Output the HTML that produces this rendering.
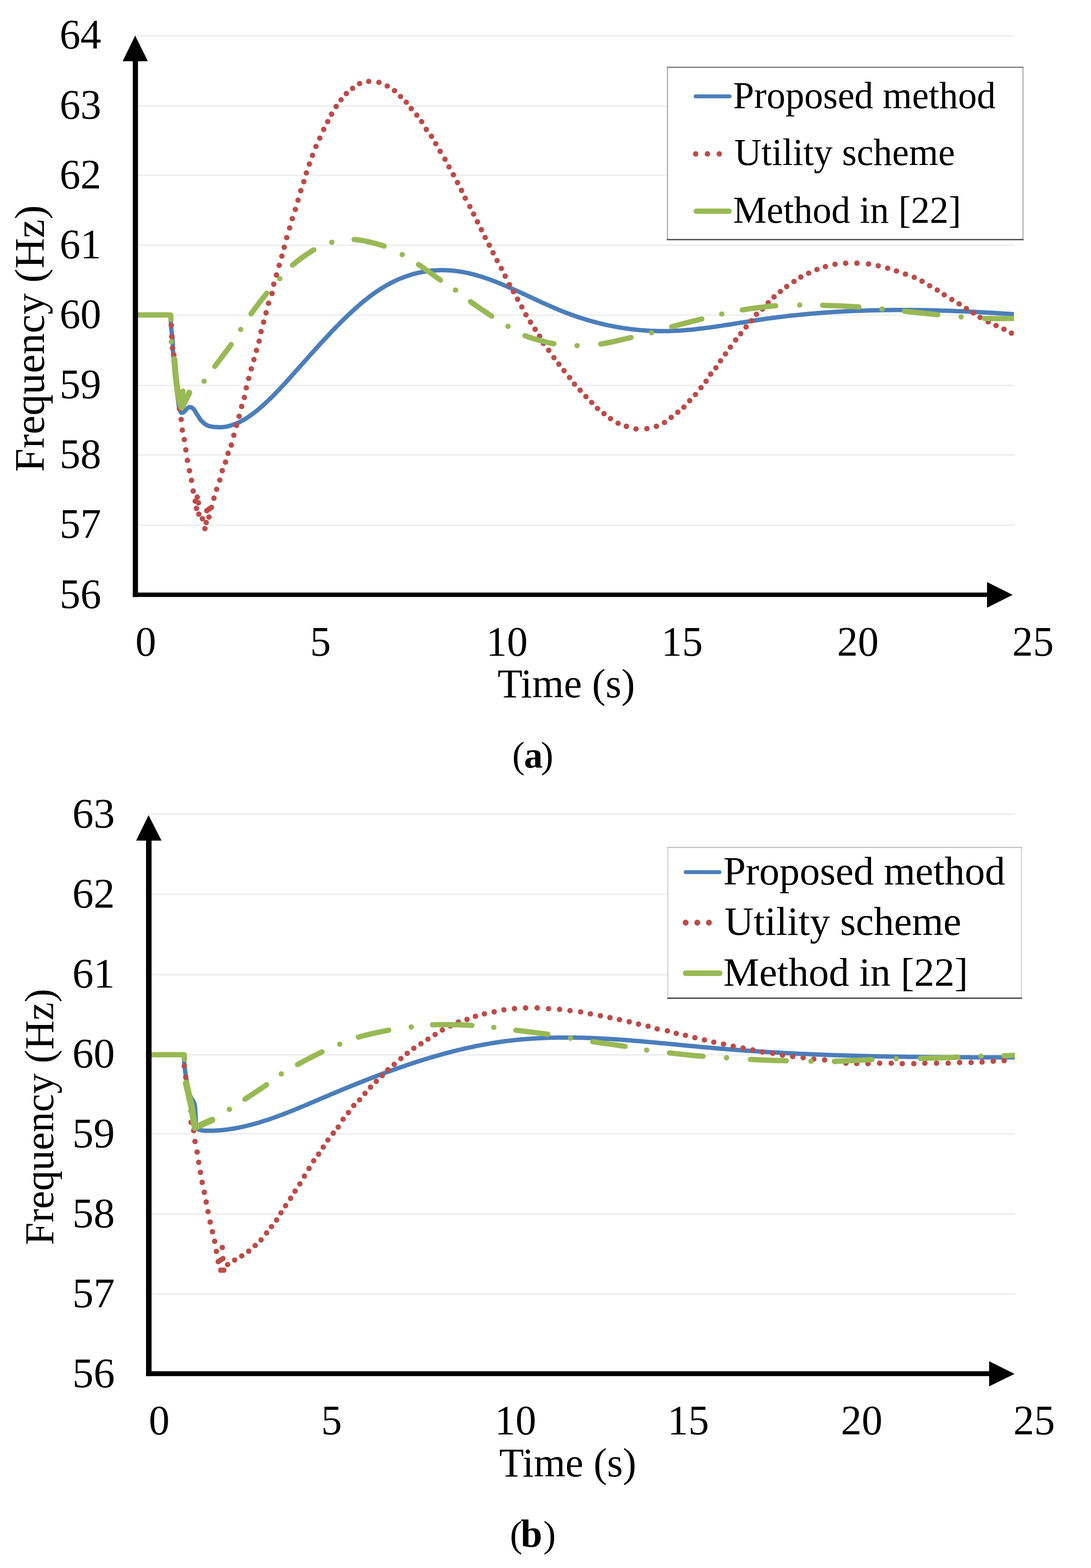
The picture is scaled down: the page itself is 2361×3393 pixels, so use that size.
<!DOCTYPE html>
<html><head><meta charset="utf-8"><title>Frequency response</title>
<style>html,body{margin:0;padding:0;background:#fff;}svg{display:block;}</style></head>
<body>
<svg width="2361" height="3393" viewBox="0 0 2361 3393">
<defs>
<clipPath id="clipA"><rect x="290" y="60" width="1904.5" height="1230"/></clipPath>
<clipPath id="clipB"><rect x="318" y="1740" width="1878" height="1235"/></clipPath>
</defs>
<rect width="2361" height="3393" fill="#fff"/>
<line x1="293" y1="77.25" x2="2195" y2="77.25" stroke="#EDEDED" stroke-width="3.2"/>
<line x1="293" y1="229.50" x2="2195" y2="229.50" stroke="#EDEDED" stroke-width="3.2"/>
<line x1="293" y1="379.25" x2="2195" y2="379.25" stroke="#EDEDED" stroke-width="3.2"/>
<line x1="293" y1="530.50" x2="2195" y2="530.50" stroke="#EDEDED" stroke-width="3.2"/>
<line x1="293" y1="682.00" x2="2195" y2="682.00" stroke="#EDEDED" stroke-width="3.2"/>
<line x1="293" y1="834.00" x2="2195" y2="834.00" stroke="#EDEDED" stroke-width="3.2"/>
<line x1="293" y1="984.40" x2="2195" y2="984.40" stroke="#EDEDED" stroke-width="3.2"/>
<line x1="293" y1="1136.25" x2="2195" y2="1136.25" stroke="#EDEDED" stroke-width="3.2"/>
<g clip-path="url(#clipA)">
<path d="M290.0,681.5L299.9,681.5 309.8,681.5 319.6,681.5 329.5,681.5 339.4,681.5 349.2,681.5 359.1,681.5 369.0,681.5 369.2,685.2 369.4,688.9 369.6,692.7 369.8,696.4 370.0,700.2 370.2,703.8 370.4,707.5 370.7,711.0 371.0,714.1 371.4,717.2 371.7,720.1 372.1,723.1 372.5,726.0 372.9,729.0 373.2,732.0 373.5,735.0 373.7,738.2 373.8,741.3 373.9,744.4 374.0,747.6 374.1,750.8 374.2,754.1 374.3,757.5 374.5,761.0 374.8,765.5 375.2,770.3 375.6,775.1 376.0,780.1 376.5,785.2 377.0,790.2 377.5,795.2 378.0,800.0 378.5,804.5 379.0,808.9 379.5,813.3 380.0,817.7 380.5,822.1 381.0,826.4 381.5,830.7 382.0,835.0 382.4,839.1 382.8,843.3 383.2,847.4 383.6,851.6 384.1,855.6 384.5,859.6 384.9,863.4 385.4,867.0 385.8,869.8 386.2,872.6 386.5,875.4 386.9,878.1 387.4,880.6 387.8,883.0 388.4,885.1 389.0,887.0 389.4,888.0 389.8,889.0 390.2,889.9 390.7,890.8 391.1,891.5 391.6,892.2 392.1,892.7 392.7,893.0 393.2,893.1 393.7,893.2 394.3,893.1 394.8,892.9 395.4,892.8 395.9,892.5 396.5,892.3 397.0,892.0 397.5,891.7 398.0,891.3 398.5,890.9 399.0,890.5 399.5,890.0 400.0,889.5 400.5,889.0 401.0,888.5 401.6,887.9 402.2,887.1 402.8,886.4 403.4,885.6 404.0,884.9 404.7,884.2 405.3,883.5 406.0,883.0 406.6,882.6 407.2,882.2 407.8,881.9 408.4,881.6 409.0,881.3 409.7,881.1 410.3,881.0 411.0,881.0 411.9,881.1 412.8,881.3 413.7,881.6 414.7,882.0 415.6,882.5 416.5,883.1 417.4,883.7 418.3,884.4 419.3,885.4 420.3,886.6 421.2,887.9 422.0,889.3 422.9,890.8 423.8,892.4 424.7,893.9 425.6,895.4 426.7,897.2 427.9,899.0 429.0,900.9 430.2,902.8 431.4,904.7 432.7,906.6 434.0,908.4 435.4,910.0 436.8,911.5 438.2,912.9 439.7,914.3 441.2,915.6 442.8,916.9 444.4,918.0 446.0,919.1 447.6,920.0 449.1,920.7 450.5,921.3 452.0,921.8 453.5,922.2 455.1,922.5 456.6,922.8 458.2,923.1 459.8,923.4 461.6,923.7 463.5,923.9 465.4,924.0 467.3,924.1 469.2,924.2 471.2,924.3 473.1,924.4 475.0,924.5 480.0,924.3 485.0,923.9 490.0,923.1 495.0,922.0 500.0,920.6 505.0,919.0 510.0,917.0 515.0,914.9 520.0,912.4 525.0,909.8 530.0,906.9 535.0,903.7 540.0,900.4 545.0,896.8 550.0,893.1 555.0,889.2 560.0,885.1 565.0,880.8 570.0,876.4 575.0,871.8 580.0,867.1 585.0,862.3 590.0,857.4 595.0,852.3 600.0,847.1 605.0,841.9 610.0,836.6 615.0,831.2 620.0,825.7 625.0,820.2 630.0,814.6 635.0,809.1 640.0,803.4 645.0,797.8 650.0,792.2 655.0,786.6 660.0,780.9 665.0,775.3 670.0,769.7 675.0,764.1 680.0,758.6 685.0,753.0 690.0,747.5 695.0,742.1 700.0,736.6 705.0,731.2 710.0,725.9 715.0,720.6 720.0,715.3 725.0,710.1 730.0,705.0 735.0,699.9 740.0,694.9 745.0,690.0 750.0,685.2 755.0,680.4 760.0,675.7 765.0,671.1 770.0,666.6 775.0,662.2 780.0,657.9 785.0,653.7 790.0,649.6 795.0,645.6 800.0,641.8 805.0,638.0 810.0,634.4 815.0,630.9 820.0,627.6 825.0,624.3 830.0,621.3 835.0,618.3 840.0,615.5 845.0,612.8 850.0,610.2 855.0,607.8 860.0,605.5 865.0,603.3 870.0,601.3 875.0,599.4 880.0,597.6 885.0,595.9 890.0,594.3 895.0,592.9 900.0,591.6 905.0,590.4 910.0,589.3 915.0,588.3 920.0,587.5 925.0,586.7 930.0,586.1 935.0,585.6 940.0,585.2 945.0,584.9 950.0,584.7 955.0,584.6 960.0,584.6 965.0,584.8 970.0,585.0 975.0,585.3 980.0,585.7 985.0,586.3 990.0,586.9 995.0,587.6 1000.0,588.4 1005.0,589.3 1010.0,590.3 1015.0,591.4 1020.0,592.6 1025.0,593.9 1030.0,595.2 1035.0,596.7 1040.0,598.2 1045.0,599.8 1050.0,601.4 1055.0,603.1 1060.0,604.9 1065.0,606.8 1070.0,608.7 1075.0,610.6 1080.0,612.6 1085.0,614.7 1090.0,616.8 1095.0,618.9 1100.0,621.1 1105.0,623.3 1110.0,625.5 1115.0,627.8 1120.0,630.0 1125.0,632.3 1130.0,634.6 1135.0,636.9 1140.0,639.3 1145.0,641.6 1150.0,643.9 1155.0,646.3 1160.0,648.6 1165.0,650.9 1170.0,653.2 1175.0,655.5 1180.0,657.8 1185.0,660.0 1190.0,662.2 1195.0,664.4 1200.0,666.6 1205.0,668.7 1210.0,670.8 1215.0,672.8 1220.0,674.8 1225.0,676.7 1230.0,678.6 1235.0,680.5 1240.0,682.3 1245.0,684.0 1250.0,685.7 1255.0,687.4 1260.0,689.0 1265.0,690.6 1270.0,692.1 1275.0,693.6 1280.0,695.0 1285.0,696.4 1290.0,697.7 1295.0,699.0 1300.0,700.2 1305.0,701.4 1310.0,702.6 1315.0,703.7 1320.0,704.7 1325.0,705.7 1330.0,706.7 1335.0,707.6 1340.0,708.5 1345.0,709.3 1350.0,710.1 1355.0,710.8 1360.0,711.5 1365.0,712.2 1370.0,712.8 1375.0,713.3 1380.0,713.8 1385.0,714.3 1390.0,714.7 1395.0,715.1 1400.0,715.4 1405.0,715.7 1410.0,716.0 1415.0,716.1 1420.0,716.3 1425.0,716.4 1430.0,716.5 1435.0,716.5 1440.0,716.4 1445.0,716.4 1450.0,716.3 1455.0,716.1 1460.0,715.9 1465.0,715.6 1470.0,715.4 1475.0,715.0 1480.0,714.7 1485.0,714.3 1490.0,713.8 1495.0,713.4 1500.0,712.9 1505.0,712.4 1510.0,711.8 1515.0,711.2 1520.0,710.6 1525.0,710.0 1530.0,709.3 1535.0,708.7 1540.0,708.0 1545.0,707.3 1550.0,706.6 1555.0,705.8 1560.0,705.1 1565.0,704.3 1570.0,703.5 1575.0,702.8 1580.0,702.0 1585.0,701.2 1590.0,700.4 1595.0,699.6 1600.0,698.8 1605.0,698.0 1610.0,697.2 1615.0,696.4 1620.0,695.6 1625.0,694.8 1630.0,694.0 1635.0,693.2 1640.0,692.5 1645.0,691.7 1650.0,691.0 1655.0,690.3 1660.0,689.5 1665.0,688.9 1670.0,688.2 1675.0,687.5 1680.0,686.9 1685.0,686.2 1690.0,685.6 1695.0,685.0 1700.0,684.4 1705.0,683.8 1710.0,683.3 1715.0,682.7 1720.0,682.2 1725.0,681.7 1730.0,681.2 1735.0,680.7 1740.0,680.2 1745.0,679.7 1750.0,679.3 1755.0,678.8 1760.0,678.4 1765.0,678.0 1770.0,677.6 1775.0,677.2 1780.0,676.8 1785.0,676.4 1790.0,676.1 1795.0,675.7 1800.0,675.4 1805.0,675.1 1810.0,674.8 1815.0,674.5 1820.0,674.2 1825.0,674.0 1830.0,673.7 1835.0,673.4 1840.0,673.2 1845.0,673.0 1850.0,672.8 1855.0,672.6 1860.0,672.4 1865.0,672.2 1870.0,672.0 1875.0,671.9 1880.0,671.7 1885.0,671.6 1890.0,671.5 1895.0,671.4 1900.0,671.3 1905.0,671.2 1910.0,671.1 1915.0,671.0 1920.0,670.9 1925.0,670.9 1930.0,670.8 1935.0,670.8 1940.0,670.8 1945.0,670.8 1950.0,670.8 1955.0,670.8 1960.0,670.8 1965.0,670.8 1970.0,670.8 1975.0,670.9 1980.0,670.9 1985.0,671.0 1990.0,671.0 1995.0,671.1 2000.0,671.2 2005.0,671.3 2010.0,671.4 2015.0,671.5 2020.0,671.6 2025.0,671.7 2030.0,671.9 2035.0,672.0 2040.0,672.2 2045.0,672.3 2050.0,672.5 2055.0,672.6 2060.0,672.8 2065.0,673.0 2070.0,673.2 2075.0,673.4 2080.0,673.6 2085.0,673.8 2090.0,674.0 2095.0,674.3 2100.0,674.5 2105.0,674.7 2110.0,675.0 2115.0,675.2 2120.0,675.5 2125.0,675.7 2130.0,676.0 2135.0,676.3 2140.0,676.6 2145.0,676.9 2150.0,677.1 2155.0,677.4 2160.0,677.8 2165.0,678.1 2170.0,678.4 2175.0,678.7 2180.0,679.0 2185.0,679.3 2190.0,679.7 2194.5,680.0" fill="none" stroke="#4A7EBB" stroke-width="9.5" stroke-linejoin="round"/>

<circle cx="370.7" cy="703.9" r="5.9" fill="#BE4B48"/><circle cx="371.7" cy="728.3" r="5.9" fill="#BE4B48"/><circle cx="373.2" cy="753.3" r="5.9" fill="#BE4B48"/><circle cx="376.2" cy="767.9" r="5.9" fill="#BE4B48"/><circle cx="378.5" cy="792.0" r="5.9" fill="#BE4B48"/><circle cx="381.0" cy="815.0" r="5.9" fill="#BE4B48"/><circle cx="384.0" cy="838.0" r="5.9" fill="#BE4B48"/><circle cx="386.0" cy="862.0" r="5.9" fill="#BE4B48"/><circle cx="388.4" cy="884.4" r="5.9" fill="#BE4B48"/><circle cx="392.1" cy="907.6" r="5.9" fill="#BE4B48"/><circle cx="394.5" cy="930.7" r="5.9" fill="#BE4B48"/><circle cx="398.8" cy="951.2" r="5.9" fill="#BE4B48"/><circle cx="402.1" cy="973.5" r="5.9" fill="#BE4B48"/><circle cx="405.6" cy="996.2" r="5.9" fill="#BE4B48"/><circle cx="410.0" cy="1018.5" r="5.9" fill="#BE4B48"/><circle cx="414.4" cy="1039.4" r="5.9" fill="#BE4B48"/><circle cx="418.1" cy="1062.5" r="5.9" fill="#BE4B48"/><circle cx="426.9" cy="1075.6" r="5.9" fill="#BE4B48"/><circle cx="422.5" cy="1084.4" r="5.9" fill="#BE4B48"/><circle cx="429.4" cy="1088.0" r="5.9" fill="#BE4B48"/><circle cx="425.0" cy="1100.0" r="5.9" fill="#BE4B48"/><circle cx="430.2" cy="1112.5" r="5.9" fill="#BE4B48"/><circle cx="438.0" cy="1122.5" r="5.9" fill="#BE4B48"/><circle cx="446.2" cy="1130.6" r="5.9" fill="#BE4B48"/><circle cx="443.5" cy="1143.8" r="5.9" fill="#BE4B48"/><circle cx="452.2" cy="1118.8" r="5.9" fill="#BE4B48"/><circle cx="447.5" cy="1105.0" r="5.9" fill="#BE4B48"/><circle cx="452.5" cy="1101.5" r="5.9" fill="#BE4B48"/><circle cx="457.5" cy="1098.0" r="5.9" fill="#BE4B48"/><circle cx="463.0" cy="1078.0" r="5.9" fill="#BE4B48"/><circle cx="468.8" cy="1058.8" r="5.9" fill="#BE4B48"/><circle cx="475.6" cy="1038.8" r="5.9" fill="#BE4B48"/><circle cx="481.0" cy="1018.5" r="5.9" fill="#BE4B48"/><circle cx="488.0" cy="1000.0" r="5.9" fill="#BE4B48"/><circle cx="493.5" cy="981.0" r="5.9" fill="#BE4B48"/><circle cx="500.6" cy="963.0" r="5.9" fill="#BE4B48"/><circle cx="506.0" cy="941.8" r="5.9" fill="#BE4B48"/><circle cx="511.8" cy="920.5" r="5.9" fill="#BE4B48"/><circle cx="517.5" cy="900.8" r="5.9" fill="#BE4B48"/><circle cx="523.0" cy="879.5" r="5.9" fill="#BE4B48"/><circle cx="528.8" cy="860.0" r="5.9" fill="#BE4B48"/><circle cx="533.0" cy="839.2" r="5.9" fill="#BE4B48"/><circle cx="538.2" cy="818.8" r="5.9" fill="#BE4B48"/><circle cx="543.8" cy="798.2" r="5.9" fill="#BE4B48"/><circle cx="549.5" cy="778.0" r="5.9" fill="#BE4B48"/><circle cx="555.0" cy="758.2" r="5.9" fill="#BE4B48"/><circle cx="560.8" cy="738.2" r="5.9" fill="#BE4B48"/><circle cx="565.0" cy="717.5" r="5.9" fill="#BE4B48"/><circle cx="570.5" cy="697.0" r="5.9" fill="#BE4B48"/><circle cx="575.8" cy="677.0" r="5.9" fill="#BE4B48"/><circle cx="581.2" cy="656.2" r="5.9" fill="#BE4B48"/><circle cx="588.8" cy="635.0" r="5.9" fill="#BE4B48"/><circle cx="592.5" cy="615.0" r="5.9" fill="#BE4B48"/><circle cx="598.2" cy="595.0" r="5.9" fill="#BE4B48"/><circle cx="604.2" cy="574.2" r="5.9" fill="#BE4B48"/><circle cx="610.0" cy="554.2" r="5.9" fill="#BE4B48"/><circle cx="615.0" cy="535.0" r="5.9" fill="#BE4B48"/><circle cx="620.5" cy="514.2" r="5.9" fill="#BE4B48"/><circle cx="626.8" cy="493.2" r="5.9" fill="#BE4B48"/><circle cx="632.5" cy="473.2" r="5.9" fill="#BE4B48"/><circle cx="639.2" cy="453.2" r="5.9" fill="#BE4B48"/><circle cx="645.0" cy="433.2" r="5.9" fill="#BE4B48"/><circle cx="650.8" cy="412.5" r="5.9" fill="#BE4B48"/><circle cx="657.5" cy="393.0" r="5.9" fill="#BE4B48"/><circle cx="663.0" cy="374.2" r="5.9" fill="#BE4B48"/><circle cx="669.5" cy="355.0" r="5.9" fill="#BE4B48"/><circle cx="676.2" cy="336.2" r="5.9" fill="#BE4B48"/><circle cx="683.8" cy="316.8" r="5.9" fill="#BE4B48"/><circle cx="692.0" cy="298.8" r="5.9" fill="#BE4B48"/><circle cx="700.5" cy="280.0" r="5.9" fill="#BE4B48"/><circle cx="709.2" cy="263.2" r="5.9" fill="#BE4B48"/><circle cx="717.5" cy="247.0" r="5.9" fill="#BE4B48"/><circle cx="727.5" cy="230.5" r="5.9" fill="#BE4B48"/><circle cx="738.0" cy="215.8" r="5.9" fill="#BE4B48"/><circle cx="749.5" cy="202.5" r="5.9" fill="#BE4B48"/><circle cx="763.0" cy="191.2" r="5.9" fill="#BE4B48"/><circle cx="778.2" cy="180.8" r="5.9" fill="#BE4B48"/><circle cx="798.0" cy="176.2" r="5.9" fill="#BE4B48"/><circle cx="820.0" cy="178.2" r="5.9" fill="#BE4B48"/><circle cx="838.0" cy="186.2" r="5.9" fill="#BE4B48"/><circle cx="853.8" cy="196.2" r="5.9" fill="#BE4B48"/><circle cx="866.8" cy="208.8" r="5.9" fill="#BE4B48"/><circle cx="879.2" cy="221.2" r="5.9" fill="#BE4B48"/><circle cx="890.0" cy="235.0" r="5.9" fill="#BE4B48"/><circle cx="902.0" cy="249.2" r="5.9" fill="#BE4B48"/><circle cx="912.5" cy="263.2" r="5.9" fill="#BE4B48"/><circle cx="922.5" cy="280.0" r="5.9" fill="#BE4B48"/><circle cx="933.8" cy="295.0" r="5.9" fill="#BE4B48"/><circle cx="943.0" cy="310.8" r="5.9" fill="#BE4B48"/><circle cx="952.5" cy="327.5" r="5.9" fill="#BE4B48"/><circle cx="963.0" cy="344.5" r="5.9" fill="#BE4B48"/><circle cx="971.8" cy="361.2" r="5.9" fill="#BE4B48"/><circle cx="981.2" cy="378.2" r="5.9" fill="#BE4B48"/><circle cx="990.0" cy="395.0" r="5.9" fill="#BE4B48"/><circle cx="998.8" cy="412.0" r="5.9" fill="#BE4B48"/><circle cx="1006.8" cy="428.8" r="5.9" fill="#BE4B48"/><circle cx="1016.8" cy="446.8" r="5.9" fill="#BE4B48"/><circle cx="1025.0" cy="463.2" r="5.9" fill="#BE4B48"/><circle cx="1033.2" cy="480.0" r="5.9" fill="#BE4B48"/><circle cx="1041.8" cy="497.0" r="5.9" fill="#BE4B48"/><circle cx="1050.0" cy="513.8" r="5.9" fill="#BE4B48"/><circle cx="1058.8" cy="530.5" r="5.9" fill="#BE4B48"/><circle cx="1067.0" cy="547.0" r="5.9" fill="#BE4B48"/><circle cx="1075.8" cy="563.8" r="5.9" fill="#BE4B48"/><circle cx="1085.0" cy="580.8" r="5.9" fill="#BE4B48"/><circle cx="1093.2" cy="597.5" r="5.9" fill="#BE4B48"/><circle cx="1102.5" cy="615.8" r="5.9" fill="#BE4B48"/><circle cx="1111.2" cy="631.2" r="5.9" fill="#BE4B48"/><circle cx="1120.0" cy="647.5" r="5.9" fill="#BE4B48"/><circle cx="1129.2" cy="664.2" r="5.9" fill="#BE4B48"/><circle cx="1138.2" cy="681.2" r="5.9" fill="#BE4B48"/><circle cx="1148.0" cy="697.0" r="5.9" fill="#BE4B48"/><circle cx="1158.0" cy="712.5" r="5.9" fill="#BE4B48"/><circle cx="1167.5" cy="727.5" r="5.9" fill="#BE4B48"/><circle cx="1176.2" cy="743.2" r="5.9" fill="#BE4B48"/><circle cx="1187.5" cy="758.0" r="5.9" fill="#BE4B48"/><circle cx="1198.8" cy="773.8" r="5.9" fill="#BE4B48"/><circle cx="1209.5" cy="788.0" r="5.9" fill="#BE4B48"/><circle cx="1220.5" cy="802.0" r="5.9" fill="#BE4B48"/><circle cx="1232.5" cy="816.8" r="5.9" fill="#BE4B48"/><circle cx="1243.2" cy="831.2" r="5.9" fill="#BE4B48"/><circle cx="1255.5" cy="844.5" r="5.9" fill="#BE4B48"/><circle cx="1268.0" cy="858.2" r="5.9" fill="#BE4B48"/><circle cx="1280.5" cy="870.8" r="5.9" fill="#BE4B48"/><circle cx="1293.0" cy="883.8" r="5.9" fill="#BE4B48"/><circle cx="1307.0" cy="895.0" r="5.9" fill="#BE4B48"/><circle cx="1321.2" cy="905.8" r="5.9" fill="#BE4B48"/><circle cx="1337.5" cy="915.8" r="5.9" fill="#BE4B48"/><circle cx="1355.5" cy="922.5" r="5.9" fill="#BE4B48"/><circle cx="1376.2" cy="928.2" r="5.9" fill="#BE4B48"/><circle cx="1400.0" cy="927.5" r="5.9" fill="#BE4B48"/><circle cx="1420.5" cy="922.5" r="5.9" fill="#BE4B48"/><circle cx="1438.0" cy="914.2" r="5.9" fill="#BE4B48"/><circle cx="1452.5" cy="903.2" r="5.9" fill="#BE4B48"/><circle cx="1466.8" cy="892.0" r="5.9" fill="#BE4B48"/><circle cx="1480.0" cy="880.8" r="5.9" fill="#BE4B48"/><circle cx="1492.5" cy="867.0" r="5.9" fill="#BE4B48"/><circle cx="1505.0" cy="853.8" r="5.9" fill="#BE4B48"/><circle cx="1517.0" cy="838.8" r="5.9" fill="#BE4B48"/><circle cx="1528.0" cy="825.0" r="5.9" fill="#BE4B48"/><circle cx="1538.0" cy="809.5" r="5.9" fill="#BE4B48"/><circle cx="1549.2" cy="795.8" r="5.9" fill="#BE4B48"/><circle cx="1559.2" cy="780.8" r="5.9" fill="#BE4B48"/><circle cx="1570.0" cy="765.8" r="5.9" fill="#BE4B48"/><circle cx="1580.5" cy="751.2" r="5.9" fill="#BE4B48"/><circle cx="1592.0" cy="735.5" r="5.9" fill="#BE4B48"/><circle cx="1603.0" cy="722.0" r="5.9" fill="#BE4B48"/><circle cx="1614.5" cy="707.5" r="5.9" fill="#BE4B48"/><circle cx="1626.2" cy="694.2" r="5.9" fill="#BE4B48"/><circle cx="1637.0" cy="680.0" r="5.9" fill="#BE4B48"/><circle cx="1650.0" cy="668.8" r="5.9" fill="#BE4B48"/><circle cx="1662.5" cy="655.0" r="5.9" fill="#BE4B48"/><circle cx="1675.0" cy="642.5" r="5.9" fill="#BE4B48"/><circle cx="1688.8" cy="630.8" r="5.9" fill="#BE4B48"/><circle cx="1702.5" cy="620.0" r="5.9" fill="#BE4B48"/><circle cx="1718.2" cy="609.2" r="5.9" fill="#BE4B48"/><circle cx="1733.0" cy="599.5" r="5.9" fill="#BE4B48"/><circle cx="1750.0" cy="591.2" r="5.9" fill="#BE4B48"/><circle cx="1768.0" cy="583.2" r="5.9" fill="#BE4B48"/><circle cx="1786.2" cy="576.8" r="5.9" fill="#BE4B48"/><circle cx="1807.0" cy="571.8" r="5.9" fill="#BE4B48"/><circle cx="1830.0" cy="569.5" r="5.9" fill="#BE4B48"/><circle cx="1854.5" cy="569.5" r="5.9" fill="#BE4B48"/><circle cx="1879.5" cy="571.2" r="5.9" fill="#BE4B48"/><circle cx="1900.6" cy="575.1" r="5.9" fill="#BE4B48"/><circle cx="1920.9" cy="580.4" r="5.9" fill="#BE4B48"/><circle cx="1940.0" cy="586.4" r="5.9" fill="#BE4B48"/><circle cx="1959.4" cy="593.2" r="5.9" fill="#BE4B48"/><circle cx="1978.5" cy="600.2" r="5.9" fill="#BE4B48"/><circle cx="1995.3" cy="608.5" r="5.9" fill="#BE4B48"/><circle cx="2011.9" cy="618.3" r="5.9" fill="#BE4B48"/><circle cx="2028.3" cy="627.7" r="5.9" fill="#BE4B48"/><circle cx="2043.4" cy="637.9" r="5.9" fill="#BE4B48"/><circle cx="2059.8" cy="648.1" r="5.9" fill="#BE4B48"/><circle cx="2075.7" cy="657.7" r="5.9" fill="#BE4B48"/><circle cx="2091.3" cy="667.7" r="5.9" fill="#BE4B48"/><circle cx="2106.6" cy="677.2" r="5.9" fill="#BE4B48"/><circle cx="2121.0" cy="686.8" r="5.9" fill="#BE4B48"/><circle cx="2138.5" cy="696.4" r="5.9" fill="#BE4B48"/><circle cx="2155.5" cy="704.3" r="5.9" fill="#BE4B48"/><circle cx="2172.6" cy="712.3" r="5.9" fill="#BE4B48"/><circle cx="2188.9" cy="720.9" r="5.9" fill="#BE4B48"/>

<path d="M290.0,681.5L296.6,681.5 303.2,681.5 309.9,681.5 316.5,681.5 323.1,681.5 329.8,681.5 336.4,681.5 343.0,681.5 349.6,681.5 356.2,681.5 362.9,681.5 369.5,681.5 369.6,682.8 369.6,684.1 369.7,685.4 369.8,686.7 369.8,688.0 369.9,689.2 370.0,690.5 370.0,691.5 M390.5,872.0L391.0,869.4 391.6,866.8 392.1,864.2 392.7,861.7 393.2,859.1 393.8,856.5 394.3,853.9 394.8,851.3 395.4,848.7 395.9,846.4 M464.8,792.8L465.4,792.1 468.6,787.8 471.9,783.4 475.5,778.8 479.1,774.1 482.7,769.3 486.3,764.6 489.9,759.8 493.4,755.2 496.6,750.8 499.7,746.5 500.2,745.7 M543.3,679.3L543.8,678.6 546.8,674.5 549.9,670.2 553.2,665.7 556.6,661.2 560.0,656.6 563.5,652.1 567.0,647.6 570.4,643.2 573.7,639.0 576.9,635.0 577.5,634.3 M633.0,573.7L633.6,573.1 637.5,569.9 641.7,566.5 646.1,563.1 650.6,559.7 655.3,556.3 660.0,553.0 664.7,549.8 669.4,546.7 673.9,543.8 678.3,541.1 679.1,540.7 M766.4,518.2L768.0,518.3 773.9,519.0 780.1,519.9 786.4,520.9 792.9,522.2 799.4,523.7 805.9,525.2 812.2,526.9 818.4,528.6 824.3,530.3 829.9,532.0 831.3,532.5 M905.7,572.3L906.5,572.8 910.8,575.8 915.4,579.0 920.0,582.3 924.8,585.7 929.6,589.2 934.4,592.7 939.2,596.1 943.8,599.5 948.3,602.6 952.5,605.6 953.2,606.2 M1018.2,652.8L1018.8,653.3 1023.0,656.2 1027.3,659.2 1031.8,662.3 1036.4,665.5 1041.0,668.7 1045.7,671.8 1050.3,674.9 1054.9,677.9 1059.3,680.9 1063.5,683.6 1064.2,684.1 M1136.2,726.5L1137.4,726.9 1142.7,728.9 1148.3,730.8 1154.3,732.7 1160.4,734.5 1166.6,736.3 1172.9,737.9 1179.1,739.5 1185.3,741.0 1191.3,742.3 1197.0,743.5 1198.6,743.8 M1300.2,744.4L1301.9,744.2 1307.8,743.1 1314.0,742.0 1320.4,740.7 1326.8,739.3 1333.3,737.9 1339.8,736.4 1346.1,734.9 1352.4,733.5 1358.4,732.1 1364.1,730.7 1365.6,730.4 M1453.8,707.0L1455.4,706.5 1461.1,705.0 1467.1,703.4 1473.4,701.7 1479.8,700.1 1486.3,698.4 1492.7,696.8 1499.2,695.1 1505.4,693.6 1511.4,692.0 1517.2,690.6 1518.7,690.2 M1606.4,670.6L1608.3,670.3 1614.5,669.4 1621.1,668.4 1627.9,667.4 1634.9,666.5 1642.0,665.5 1649.2,664.7 1656.3,663.8 1663.3,663.0 1670.0,662.3 1676.4,661.7 1678.6,661.6 M1780.2,660.6L1782.6,660.7 1789.4,660.9 1796.5,661.2 1804.0,661.5 1811.6,661.8 1819.4,662.1 1827.1,662.5 1834.7,662.9 1842.2,663.3 1849.4,663.7 1856.2,664.1 1858.6,664.2 M1957.3,673.4L1959.3,673.6 1965.6,674.3 1972.2,675.0 1979.1,675.7 1986.1,676.5 1993.2,677.3 2000.3,678.0 2007.3,678.8 2014.2,679.5 2020.9,680.2 2027.2,680.9 2029.3,681.1 M2130.7,689.1L2132.3,689.2 2138.1,689.3 2143.9,689.3 2150.0,689.3 2156.1,689.3 2162.4,689.3 2168.7,689.2 2175.0,689.2 2181.3,689.1 2187.6,689.1 2193.8,689.0 2200.0,689.0" fill="none" stroke="#98B954" stroke-width="11.5" stroke-linecap="round" stroke-linejoin="round"/>
<circle cx="370.7" cy="739.3" r="5.8" fill="#98B954"/><circle cx="441.8" cy="825.0" r="5.8" fill="#98B954"/><circle cx="521.0" cy="713.0" r="5.8" fill="#98B954"/><circle cx="605.5" cy="603.0" r="5.8" fill="#98B954"/><circle cx="718.0" cy="524.2" r="5.8" fill="#98B954"/><circle cx="870.5" cy="550.8" r="5.8" fill="#98B954"/><circle cx="985.8" cy="627.6" r="5.8" fill="#98B954"/><circle cx="1099.2" cy="706.2" r="5.8" fill="#98B954"/><circle cx="1248.8" cy="748.0" r="5.8" fill="#98B954"/><circle cx="1409.8" cy="720.0" r="5.8" fill="#98B954"/><circle cx="1562.0" cy="679.5" r="5.8" fill="#98B954"/><circle cx="1730.5" cy="660.0" r="5.8" fill="#98B954"/><circle cx="1908.7" cy="668.7" r="5.8" fill="#98B954"/><circle cx="2080.0" cy="685.7" r="5.8" fill="#98B954"/><path d="M377.1,776.9L377.2,777.7 377.4,779.6 377.6,781.8 377.8,784.2 378.0,786.8 378.2,789.5 378.4,792.2 378.6,795.1 378.8,797.9 379.0,800.7 379.3,803.4 379.5,806.0 379.8,808.6 380.0,811.2 380.3,813.8 380.6,816.4 380.9,819.1 381.2,821.7 381.4,824.3 381.8,826.9 382.1,829.5 382.4,832.1 382.7,834.6 383.0,837.0 383.3,839.1 383.5,841.2 383.8,843.3 384.0,845.3 384.3,847.3 384.6,849.3 384.8,851.3 385.1,853.3 385.5,855.2 385.8,857.2 386.2,859.1 386.6,861.0 387.0,862.8 387.5,864.6 388.0,866.4 388.5,868.1 389.1,869.9 389.6,871.6 390.2,873.3 390.8,875.1 391.3,876.8 391.9,878.5 392.5,880.3 393.0,882.0 393.8,880.4 394.7,878.8 395.5,877.3 396.4,875.7 397.2,874.1 398.0,872.5 398.9,870.9 399.7,869.3 400.5,867.8 401.4,866.2 402.2,864.6 403.0,863.0 403.8,861.4 404.6,859.8 405.4,858.3 406.2,856.7 407.0,855.1 407.8,853.5 408.6,851.9 409.3,850.3 409.6,849.8" fill="none" stroke="#98B954" stroke-width="13" stroke-linecap="round" stroke-linejoin="round"/>
</g>
<line x1="293" y1="128" x2="293" y2="1292" stroke="#000" stroke-width="11.2"/>
<polygon points="292.5,77 265.5,132.5 320,132.5" fill="#000"/>
<line x1="287.4" y1="1287" x2="2140" y2="1287" stroke="#000" stroke-width="9.6"/>
<polygon points="2136,1259.5 2191.5,1287.25 2136,1315" fill="#000"/>
<text x="219" y="105.2" text-anchor="end" font-size="90" font-family="Liberation Serif, Times New Roman, serif">64</text>
<text x="219" y="256.5" text-anchor="end" font-size="90" font-family="Liberation Serif, Times New Roman, serif">63</text>
<text x="219" y="407.8" text-anchor="end" font-size="90" font-family="Liberation Serif, Times New Roman, serif">62</text>
<text x="219" y="559.1" text-anchor="end" font-size="90" font-family="Liberation Serif, Times New Roman, serif">61</text>
<text x="219" y="710.4" text-anchor="end" font-size="90" font-family="Liberation Serif, Times New Roman, serif">60</text>
<text x="219" y="861.6" text-anchor="end" font-size="90" font-family="Liberation Serif, Times New Roman, serif">59</text>
<text x="219" y="1012.9" text-anchor="end" font-size="90" font-family="Liberation Serif, Times New Roman, serif">58</text>
<text x="219" y="1164.2" text-anchor="end" font-size="90" font-family="Liberation Serif, Times New Roman, serif">57</text>
<text x="219" y="1315.5" text-anchor="end" font-size="90" font-family="Liberation Serif, Times New Roman, serif">56</text>
<text x="315.5" y="1419" text-anchor="middle" font-size="90" font-family="Liberation Serif, Times New Roman, serif">0</text>
<text x="693.5" y="1419" text-anchor="middle" font-size="90" font-family="Liberation Serif, Times New Roman, serif">5</text>
<text x="1097" y="1419" text-anchor="middle" font-size="90" font-family="Liberation Serif, Times New Roman, serif">10</text>
<text x="1476" y="1419" text-anchor="middle" font-size="90" font-family="Liberation Serif, Times New Roman, serif">15</text>
<text x="1856.5" y="1419" text-anchor="middle" font-size="90" font-family="Liberation Serif, Times New Roman, serif">20</text>
<text x="2235.5" y="1419" text-anchor="middle" font-size="90" font-family="Liberation Serif, Times New Roman, serif">25</text>
<text x="1076.7" y="1508.7" font-size="88" font-family="Liberation Serif, Times New Roman, serif">Time (s)</text>
<text transform="translate(94.8,1018.6) rotate(-90)" x="-2.7" y="0" font-size="91.6" font-family="Liberation Serif, Times New Roman, serif">Frequency (Hz)</text>
<text y="1660.5" font-size="81" font-family="Liberation Serif, Times New Roman, serif"><tspan x="1108.6">(</tspan><tspan x="1134" font-weight="bold">a</tspan><tspan x="1170.6">)</tspan></text>
<rect x="1444.4" y="145.6" width="769.4000000000001" height="372.9" fill="#fff" stroke="none"/><line x1="1444.4" y1="145.6" x2="1444.4" y2="518.5" stroke="#b0b0b0" stroke-width="2.6"/><line x1="2213.8" y1="145.6" x2="2213.8" y2="518.5" stroke="#b0b0b0" stroke-width="2.6"/><line x1="1443.1000000000001" y1="145.6" x2="2215.1000000000004" y2="145.6" stroke="#808080" stroke-width="2.6"/><line x1="1443.1000000000001" y1="518.5" x2="2215.1000000000004" y2="518.5" stroke="#555" stroke-width="3"/>
<line x1="1505.3" y1="208.5" x2="1579" y2="208.5" stroke="#4A7EBB" stroke-width="8.6" stroke-linecap="round"/>
<circle cx="1505.5" cy="333" r="5.9" fill="#BE4B48"/>
<circle cx="1531" cy="333" r="5.9" fill="#BE4B48"/>
<circle cx="1556.6" cy="333" r="5.9" fill="#BE4B48"/>
<line x1="1506.5" y1="457" x2="1578" y2="457" stroke="#98B954" stroke-width="11.5" stroke-linecap="round"/>
<text x="1586.5" y="234" font-size="81.5" font-family="Liberation Serif, Times New Roman, serif">Proposed method</text>
<text x="1589.0" y="357.2" font-size="81.5" font-family="Liberation Serif, Times New Roman, serif">Utility scheme</text>
<text x="1586.5" y="481.8" font-size="81.5" font-family="Liberation Serif, Times New Roman, serif">Method in [22]</text>
<line x1="322" y1="1761.90" x2="2196" y2="1761.90" stroke="#EDEDED" stroke-width="3.2"/>
<line x1="322" y1="1935.25" x2="2196" y2="1935.25" stroke="#EDEDED" stroke-width="3.2"/>
<line x1="322" y1="2109.10" x2="2196" y2="2109.10" stroke="#EDEDED" stroke-width="3.2"/>
<line x1="322" y1="2282.60" x2="2196" y2="2282.60" stroke="#EDEDED" stroke-width="3.2"/>
<line x1="322" y1="2453.25" x2="2196" y2="2453.25" stroke="#EDEDED" stroke-width="3.2"/>
<line x1="322" y1="2626.90" x2="2196" y2="2626.90" stroke="#EDEDED" stroke-width="3.2"/>
<line x1="322" y1="2800.25" x2="2196" y2="2800.25" stroke="#EDEDED" stroke-width="3.2"/>
<g clip-path="url(#clipB)">
<path d="M322.0,2282.4L331.5,2282.4 341.0,2282.4 350.5,2282.4 360.0,2282.4 369.5,2282.4 379.0,2282.4 388.5,2282.4 398.0,2282.4 398.1,2284.4 398.1,2286.3 398.2,2288.3 398.3,2290.2 398.4,2292.2 398.4,2294.2 398.6,2296.2 398.7,2298.3 398.9,2300.9 399.1,2303.5 399.4,2306.2 399.7,2309.0 400.0,2311.8 400.3,2314.6 400.7,2317.3 401.0,2320.0 401.3,2322.5 401.7,2325.0 402.0,2327.5 402.4,2330.0 402.8,2332.5 403.2,2335.0 403.6,2337.5 404.0,2340.0 404.4,2342.7 404.9,2345.6 405.3,2348.4 405.7,2351.3 406.2,2354.1 406.7,2356.9 407.3,2359.5 408.0,2362.0 408.6,2363.9 409.3,2365.8 410.0,2367.6 410.8,2369.4 411.6,2371.1 412.4,2372.8 413.2,2374.4 414.0,2376.0 414.7,2377.3 415.5,2378.6 416.4,2379.8 417.2,2381.0 418.0,2382.2 418.7,2383.4 419.4,2384.6 420.0,2386.0 420.5,2387.6 421.0,2389.2 421.3,2390.9 421.6,2392.6 421.9,2394.4 422.1,2396.2 422.3,2398.1 422.5,2400.0 422.7,2402.3 422.9,2404.7 423.0,2407.2 423.1,2409.8 423.2,2412.3 423.3,2414.9 423.4,2417.5 423.5,2420.0 423.5,2422.6 423.5,2425.4 423.4,2428.2 423.3,2431.0 423.3,2433.7 423.4,2436.1 423.8,2438.3 424.5,2440.0 425.1,2440.9 425.8,2441.6 426.5,2442.3 427.4,2442.8 428.2,2443.3 429.1,2443.7 430.1,2444.1 431.0,2444.5 432.0,2444.9 433.1,2445.2 434.2,2445.5 435.4,2445.7 436.5,2445.9 437.7,2446.1 438.9,2446.4 440.0,2446.6 445.0,2446.8 450.0,2446.8 455.0,2446.8 460.0,2446.7 465.0,2446.6 470.0,2446.3 475.0,2445.9 480.0,2445.5 485.0,2445.0 490.0,2444.4 495.0,2443.8 500.0,2443.0 505.0,2442.2 510.0,2441.3 515.0,2440.4 520.0,2439.4 525.0,2438.3 530.0,2437.2 535.0,2436.0 540.0,2434.7 545.0,2433.4 550.0,2432.1 555.0,2430.7 560.0,2429.2 565.0,2427.7 570.0,2426.1 575.0,2424.5 580.0,2422.9 585.0,2421.2 590.0,2419.4 595.0,2417.7 600.0,2415.9 605.0,2414.0 610.0,2412.2 615.0,2410.3 620.0,2408.3 625.0,2406.4 630.0,2404.4 635.0,2402.4 640.0,2400.4 645.0,2398.3 650.0,2396.2 655.0,2394.2 660.0,2392.1 665.0,2390.0 670.0,2387.9 675.0,2385.7 680.0,2383.6 685.0,2381.5 690.0,2379.3 695.0,2377.2 700.0,2375.1 705.0,2373.0 710.0,2370.8 715.0,2368.7 720.0,2366.6 725.0,2364.5 730.0,2362.4 735.0,2360.3 740.0,2358.2 745.0,2356.2 750.0,2354.1 755.0,2352.1 760.0,2350.0 765.0,2348.0 770.0,2346.0 775.0,2344.0 780.0,2342.0 785.0,2340.0 790.0,2338.0 795.0,2336.1 800.0,2334.1 805.0,2332.2 810.0,2330.3 815.0,2328.4 820.0,2326.5 825.0,2324.6 830.0,2322.8 835.0,2320.9 840.0,2319.1 845.0,2317.3 850.0,2315.5 855.0,2313.7 860.0,2311.9 865.0,2310.2 870.0,2308.5 875.0,2306.7 880.0,2305.0 885.0,2303.4 890.0,2301.7 895.0,2300.0 900.0,2298.4 905.0,2296.8 910.0,2295.2 915.0,2293.7 920.0,2292.1 925.0,2290.6 930.0,2289.1 935.0,2287.6 940.0,2286.1 945.0,2284.7 950.0,2283.3 955.0,2281.9 960.0,2280.5 965.0,2279.1 970.0,2277.8 975.0,2276.5 980.0,2275.2 985.0,2274.0 990.0,2272.7 995.0,2271.5 1000.0,2270.3 1005.0,2269.2 1010.0,2268.0 1015.0,2266.9 1020.0,2265.8 1025.0,2264.8 1030.0,2263.7 1035.0,2262.7 1040.0,2261.8 1045.0,2260.8 1050.0,2259.9 1055.0,2259.0 1060.0,2258.1 1065.0,2257.3 1070.0,2256.5 1075.0,2255.7 1080.0,2255.0 1085.0,2254.2 1090.0,2253.5 1095.0,2252.9 1100.0,2252.3 1105.0,2251.7 1110.0,2251.1 1115.0,2250.5 1120.0,2250.0 1125.0,2249.6 1130.0,2249.1 1135.0,2248.7 1140.0,2248.3 1145.0,2247.9 1150.0,2247.5 1155.0,2247.2 1160.0,2246.9 1165.0,2246.6 1170.0,2246.4 1175.0,2246.2 1180.0,2246.0 1185.0,2245.8 1190.0,2245.6 1195.0,2245.5 1200.0,2245.4 1205.0,2245.3 1210.0,2245.2 1215.0,2245.2 1220.0,2245.2 1225.0,2245.2 1230.0,2245.2 1235.0,2245.2 1240.0,2245.3 1245.0,2245.3 1250.0,2245.4 1255.0,2245.5 1260.0,2245.6 1265.0,2245.8 1270.0,2245.9 1275.0,2246.1 1280.0,2246.3 1285.0,2246.5 1290.0,2246.7 1295.0,2246.9 1300.0,2247.2 1305.0,2247.4 1310.0,2247.7 1315.0,2248.0 1320.0,2248.3 1325.0,2248.6 1330.0,2248.9 1335.0,2249.3 1340.0,2249.6 1345.0,2250.0 1350.0,2250.3 1355.0,2250.7 1360.0,2251.1 1365.0,2251.5 1370.0,2251.9 1375.0,2252.3 1380.0,2252.7 1385.0,2253.1 1390.0,2253.5 1395.0,2254.0 1400.0,2254.4 1405.0,2254.9 1410.0,2255.3 1415.0,2255.8 1420.0,2256.2 1425.0,2256.7 1430.0,2257.2 1435.0,2257.6 1440.0,2258.1 1445.0,2258.6 1450.0,2259.1 1455.0,2259.5 1460.0,2260.0 1465.0,2260.5 1470.0,2261.0 1475.0,2261.5 1480.0,2261.9 1485.0,2262.4 1490.0,2262.9 1495.0,2263.4 1500.0,2263.8 1505.0,2264.3 1510.0,2264.8 1515.0,2265.3 1520.0,2265.7 1525.0,2266.2 1530.0,2266.6 1535.0,2267.1 1540.0,2267.5 1545.0,2268.0 1550.0,2268.4 1555.0,2268.8 1560.0,2269.2 1565.0,2269.6 1570.0,2270.1 1575.0,2270.5 1580.0,2270.8 1585.0,2271.2 1590.0,2271.6 1595.0,2272.0 1600.0,2272.4 1605.0,2272.7 1610.0,2273.1 1615.0,2273.4 1620.0,2273.8 1625.0,2274.1 1630.0,2274.5 1635.0,2274.8 1640.0,2275.1 1645.0,2275.5 1650.0,2275.8 1655.0,2276.1 1660.0,2276.4 1665.0,2276.7 1670.0,2277.0 1675.0,2277.3 1680.0,2277.6 1685.0,2277.8 1690.0,2278.1 1695.0,2278.4 1700.0,2278.7 1705.0,2278.9 1710.0,2279.2 1715.0,2279.4 1720.0,2279.7 1725.0,2279.9 1730.0,2280.2 1735.0,2280.4 1740.0,2280.6 1745.0,2280.8 1750.0,2281.1 1755.0,2281.3 1760.0,2281.5 1765.0,2281.7 1770.0,2281.9 1775.0,2282.1 1780.0,2282.3 1785.0,2282.5 1790.0,2282.7 1795.0,2282.8 1800.0,2283.0 1805.0,2283.2 1810.0,2283.4 1815.0,2283.5 1820.0,2283.7 1825.0,2283.8 1830.0,2284.0 1835.0,2284.1 1840.0,2284.3 1845.0,2284.4 1850.0,2284.6 1855.0,2284.7 1860.0,2284.8 1865.0,2285.0 1870.0,2285.1 1875.0,2285.2 1880.0,2285.3 1885.0,2285.4 1890.0,2285.6 1895.0,2285.7 1900.0,2285.8 1905.0,2285.9 1910.0,2286.0 1915.0,2286.1 1920.0,2286.2 1925.0,2286.2 1930.0,2286.3 1935.0,2286.4 1940.0,2286.5 1945.0,2286.6 1950.0,2286.7 1955.0,2286.7 1960.0,2286.8 1965.0,2286.9 1970.0,2286.9 1975.0,2287.0 1980.0,2287.1 1985.0,2287.1 1990.0,2287.2 1995.0,2287.2 2000.0,2287.3 2005.0,2287.3 2010.0,2287.4 2015.0,2287.4 2020.0,2287.4 2025.0,2287.5 2030.0,2287.5 2035.0,2287.6 2040.0,2287.6 2045.0,2287.6 2050.0,2287.7 2055.0,2287.7 2060.0,2287.7 2065.0,2287.7 2070.0,2287.8 2075.0,2287.8 2080.0,2287.8 2085.0,2287.8 2090.0,2287.8 2095.0,2287.8 2100.0,2287.9 2105.0,2287.9 2110.0,2287.9 2115.0,2287.9 2120.0,2287.9 2125.0,2287.9 2130.0,2287.9 2135.0,2287.9 2140.0,2287.9 2145.0,2287.9 2150.0,2287.9 2155.0,2287.9 2160.0,2287.9 2165.0,2287.9 2170.0,2287.9 2175.0,2287.9 2180.0,2287.9 2185.0,2287.9 2190.0,2287.9 2195.0,2287.9 2196.0,2287.9" fill="none" stroke="#4A7EBB" stroke-width="9.5" stroke-linejoin="round"/>

<circle cx="398.7" cy="2306.6" r="5.9" fill="#BE4B48"/><circle cx="401.8" cy="2331.0" r="5.9" fill="#BE4B48"/><circle cx="406.5" cy="2355.0" r="5.9" fill="#BE4B48"/><circle cx="410.0" cy="2380.0" r="5.9" fill="#BE4B48"/><circle cx="413.5" cy="2404.0" r="5.9" fill="#BE4B48"/><circle cx="413.5" cy="2428.5" r="5.9" fill="#BE4B48"/><circle cx="419.2" cy="2446.5" r="5.9" fill="#BE4B48"/><circle cx="422.1" cy="2470.0" r="5.9" fill="#BE4B48"/><circle cx="426.6" cy="2492.9" r="5.9" fill="#BE4B48"/><circle cx="430.0" cy="2515.1" r="5.9" fill="#BE4B48"/><circle cx="433.8" cy="2536.9" r="5.9" fill="#BE4B48"/><circle cx="437.5" cy="2558.5" r="5.9" fill="#BE4B48"/><circle cx="442.1" cy="2580.0" r="5.9" fill="#BE4B48"/><circle cx="446.2" cy="2601.0" r="5.9" fill="#BE4B48"/><circle cx="450.2" cy="2621.9" r="5.9" fill="#BE4B48"/><circle cx="454.8" cy="2644.4" r="5.9" fill="#BE4B48"/><circle cx="459.8" cy="2665.4" r="5.9" fill="#BE4B48"/><circle cx="464.6" cy="2686.0" r="5.9" fill="#BE4B48"/><circle cx="468.4" cy="2707.9" r="5.9" fill="#BE4B48"/><circle cx="481.1" cy="2699.4" r="5.9" fill="#BE4B48"/><circle cx="472.3" cy="2730.0" r="5.9" fill="#BE4B48"/><circle cx="477.3" cy="2726.6" r="5.9" fill="#BE4B48"/><circle cx="482.4" cy="2723.3" r="5.9" fill="#BE4B48"/><circle cx="477.9" cy="2748.5" r="5.9" fill="#BE4B48"/><circle cx="484.3" cy="2748.5" r="5.9" fill="#BE4B48"/><circle cx="492.6" cy="2736.4" r="5.9" fill="#BE4B48"/><circle cx="507.9" cy="2726.7" r="5.9" fill="#BE4B48"/><circle cx="523.2" cy="2717.7" r="5.9" fill="#BE4B48"/><circle cx="538.3" cy="2707.5" r="5.9" fill="#BE4B48"/><circle cx="552.2" cy="2695.2" r="5.9" fill="#BE4B48"/><circle cx="565.0" cy="2683.0" r="5.9" fill="#BE4B48"/><circle cx="576.9" cy="2668.0" r="5.9" fill="#BE4B48"/><circle cx="587.5" cy="2654.4" r="5.9" fill="#BE4B48"/><circle cx="598.5" cy="2640.0" r="5.9" fill="#BE4B48"/><circle cx="608.1" cy="2624.4" r="5.9" fill="#BE4B48"/><circle cx="618.0" cy="2609.0" r="5.9" fill="#BE4B48"/><circle cx="628.8" cy="2593.0" r="5.9" fill="#BE4B48"/><circle cx="638.5" cy="2577.5" r="5.9" fill="#BE4B48"/><circle cx="649.0" cy="2561.8" r="5.9" fill="#BE4B48"/><circle cx="658.8" cy="2545.0" r="5.9" fill="#BE4B48"/><circle cx="668.8" cy="2528.5" r="5.9" fill="#BE4B48"/><circle cx="678.8" cy="2511.8" r="5.9" fill="#BE4B48"/><circle cx="689.5" cy="2497.5" r="5.9" fill="#BE4B48"/><circle cx="699.5" cy="2482.2" r="5.9" fill="#BE4B48"/><circle cx="709.5" cy="2466.8" r="5.9" fill="#BE4B48"/><circle cx="721.2" cy="2452.0" r="5.9" fill="#BE4B48"/><circle cx="731.9" cy="2438.8" r="5.9" fill="#BE4B48"/><circle cx="742.5" cy="2421.9" r="5.9" fill="#BE4B48"/><circle cx="754.0" cy="2407.5" r="5.9" fill="#BE4B48"/><circle cx="765.6" cy="2392.2" r="5.9" fill="#BE4B48"/><circle cx="778.1" cy="2379.8" r="5.9" fill="#BE4B48"/><circle cx="790.0" cy="2366.0" r="5.9" fill="#BE4B48"/><circle cx="801.9" cy="2352.5" r="5.9" fill="#BE4B48"/><circle cx="814.4" cy="2340.0" r="5.9" fill="#BE4B48"/><circle cx="827.2" cy="2327.5" r="5.9" fill="#BE4B48"/><circle cx="839.4" cy="2315.0" r="5.9" fill="#BE4B48"/><circle cx="853.1" cy="2303.1" r="5.9" fill="#BE4B48"/><circle cx="867.5" cy="2290.6" r="5.9" fill="#BE4B48"/><circle cx="881.2" cy="2279.4" r="5.9" fill="#BE4B48"/><circle cx="895.6" cy="2268.4" r="5.9" fill="#BE4B48"/><circle cx="911.0" cy="2258.5" r="5.9" fill="#BE4B48"/><circle cx="926.0" cy="2248.6" r="5.9" fill="#BE4B48"/><circle cx="941.6" cy="2238.6" r="5.9" fill="#BE4B48"/><circle cx="957.2" cy="2228.9" r="5.9" fill="#BE4B48"/><circle cx="974.5" cy="2220.0" r="5.9" fill="#BE4B48"/><circle cx="991.9" cy="2211.6" r="5.9" fill="#BE4B48"/><circle cx="1010.7" cy="2206.0" r="5.9" fill="#BE4B48"/><circle cx="1028.9" cy="2199.2" r="5.9" fill="#BE4B48"/><circle cx="1048.3" cy="2193.8" r="5.9" fill="#BE4B48"/><circle cx="1069.3" cy="2189.5" r="5.9" fill="#BE4B48"/><circle cx="1090.5" cy="2185.1" r="5.9" fill="#BE4B48"/><circle cx="1113.4" cy="2182.5" r="5.9" fill="#BE4B48"/><circle cx="1137.4" cy="2181.0" r="5.9" fill="#BE4B48"/><circle cx="1162.6" cy="2181.0" r="5.9" fill="#BE4B48"/><circle cx="1187.0" cy="2182.6" r="5.9" fill="#BE4B48"/><circle cx="1211.0" cy="2184.1" r="5.9" fill="#BE4B48"/><circle cx="1233.5" cy="2186.9" r="5.9" fill="#BE4B48"/><circle cx="1256.6" cy="2189.7" r="5.9" fill="#BE4B48"/><circle cx="1277.6" cy="2193.9" r="5.9" fill="#BE4B48"/><circle cx="1299.2" cy="2197.8" r="5.9" fill="#BE4B48"/><circle cx="1319.9" cy="2202.0" r="5.9" fill="#BE4B48"/><circle cx="1340.5" cy="2206.3" r="5.9" fill="#BE4B48"/><circle cx="1361.7" cy="2211.0" r="5.9" fill="#BE4B48"/><circle cx="1381.8" cy="2216.0" r="5.9" fill="#BE4B48"/><circle cx="1402.5" cy="2220.7" r="5.9" fill="#BE4B48"/><circle cx="1422.2" cy="2226.4" r="5.9" fill="#BE4B48"/><circle cx="1444.3" cy="2230.7" r="5.9" fill="#BE4B48"/><circle cx="1463.5" cy="2236.1" r="5.9" fill="#BE4B48"/><circle cx="1483.5" cy="2240.4" r="5.9" fill="#BE4B48"/><circle cx="1503.8" cy="2245.3" r="5.9" fill="#BE4B48"/><circle cx="1524.4" cy="2250.4" r="5.9" fill="#BE4B48"/><circle cx="1544.7" cy="2255.1" r="5.9" fill="#BE4B48"/><circle cx="1565.7" cy="2259.4" r="5.9" fill="#BE4B48"/><circle cx="1586.8" cy="2263.9" r="5.9" fill="#BE4B48"/><circle cx="1608.0" cy="2267.9" r="5.9" fill="#BE4B48"/><circle cx="1629.2" cy="2272.0" r="5.9" fill="#BE4B48"/><circle cx="1649.8" cy="2276.3" r="5.9" fill="#BE4B48"/><circle cx="1672.2" cy="2279.1" r="5.9" fill="#BE4B48"/><circle cx="1693.4" cy="2283.2" r="5.9" fill="#BE4B48"/><circle cx="1715.5" cy="2286.1" r="5.9" fill="#BE4B48"/><circle cx="1738.1" cy="2288.9" r="5.9" fill="#BE4B48"/><circle cx="1761.0" cy="2291.8" r="5.9" fill="#BE4B48"/><circle cx="1784.4" cy="2293.5" r="5.9" fill="#BE4B48"/><circle cx="1807.5" cy="2297.0" r="5.9" fill="#BE4B48"/><circle cx="1830.6" cy="2300.6" r="5.9" fill="#BE4B48"/><circle cx="1854.0" cy="2301.4" r="5.9" fill="#BE4B48"/><circle cx="1878.3" cy="2301.7" r="5.9" fill="#BE4B48"/><circle cx="1903.6" cy="2300.6" r="5.9" fill="#BE4B48"/><circle cx="1928.7" cy="2300.6" r="5.9" fill="#BE4B48"/><circle cx="1952.6" cy="2301.7" r="5.9" fill="#BE4B48"/><circle cx="1977.6" cy="2301.7" r="5.9" fill="#BE4B48"/><circle cx="2001.5" cy="2300.6" r="5.9" fill="#BE4B48"/><circle cx="2026.7" cy="2300.6" r="5.9" fill="#BE4B48"/><circle cx="2051.9" cy="2300.6" r="5.9" fill="#BE4B48"/><circle cx="2076.6" cy="2299.2" r="5.9" fill="#BE4B48"/><circle cx="2101.5" cy="2299.2" r="5.9" fill="#BE4B48"/><circle cx="2125.3" cy="2298.0" r="5.9" fill="#BE4B48"/><circle cx="2149.5" cy="2296.3" r="5.9" fill="#BE4B48"/><circle cx="2173.1" cy="2295.1" r="5.9" fill="#BE4B48"/>

<path d="M322.0,2282.2L328.4,2282.2 334.8,2282.2 341.2,2282.2 347.6,2282.2 354.0,2282.2 360.4,2282.2 366.8,2282.2 373.2,2282.2 379.6,2282.2 386.0,2282.2 392.4,2282.2 398.8,2282.2 398.8,2283.5 398.9,2284.8 398.9,2286.0 398.9,2287.3 399.0,2288.6 399.0,2289.8 399.0,2291.1 399.1,2292.0 M530.1,2378.6L530.8,2378.2 535.0,2375.4 539.5,2372.4 544.1,2369.4 548.8,2366.3 553.5,2363.1 558.3,2359.9 563.0,2356.8 567.5,2353.7 571.9,2350.7 576.1,2347.8 576.8,2347.4 M643.9,2303.6L644.8,2303.1 649.4,2300.6 654.4,2298.0 659.5,2295.2 664.8,2292.5 670.1,2289.7 675.5,2286.9 680.8,2284.2 686.0,2281.5 691.1,2279.0 695.9,2276.7 696.8,2276.2 M775.6,2244.3L777.0,2243.9 782.7,2242.3 788.7,2240.7 794.9,2239.2 801.3,2237.6 807.8,2236.1 814.4,2234.7 820.9,2233.3 827.3,2232.0 833.5,2230.7 839.4,2229.6 841.1,2229.2 M936.1,2217.5L938.8,2217.4 946.0,2217.2 953.7,2217.2 961.8,2217.2 970.1,2217.3 978.6,2217.4 987.1,2217.6 995.4,2217.8 1003.6,2218.1 1011.3,2218.4 1018.6,2218.8 1021.3,2218.9 M1116.4,2229.4L1118.2,2229.6 1124.3,2230.4 1130.7,2231.1 1137.3,2231.9 1144.0,2232.7 1150.9,2233.5 1157.7,2234.4 1164.5,2235.2 1171.1,2236.1 1177.5,2236.9 1183.6,2237.8 1185.5,2238.0 M1282.5,2254.2L1284.4,2254.5 1290.6,2255.4 1297.1,2256.3 1303.8,2257.2 1310.7,2258.2 1317.6,2259.1 1324.6,2260.1 1331.4,2261.1 1338.1,2262.0 1344.6,2263.0 1350.8,2263.9 1352.6,2264.2 M1448.6,2278.4L1450.7,2278.7 1457.1,2279.4 1463.8,2280.1 1470.7,2280.8 1477.8,2281.6 1485.0,2282.3 1492.1,2283.1 1499.2,2283.8 1506.2,2284.4 1512.9,2285.0 1519.4,2285.6 1521.5,2285.8 M1624.1,2292.5L1626.5,2292.6 1633.3,2292.9 1640.4,2293.3 1647.7,2293.6 1655.2,2293.9 1662.8,2294.1 1670.4,2294.4 1677.9,2294.7 1685.3,2294.9 1692.4,2295.1 1699.2,2295.3 1701.7,2295.4 M1805.5,2296.6L1808.1,2296.5 1815.1,2296.3 1822.5,2296.0 1830.2,2295.7 1838.1,2295.3 1846.1,2294.9 1854.1,2294.5 1862.0,2294.1 1869.7,2293.7 1877.1,2293.3 1884.2,2293.0 1886.9,2292.9 M1991.7,2290.3L1994.3,2290.2 2001.3,2290.0 2008.7,2289.8 2016.4,2289.6 2024.2,2289.4 2032.2,2289.1 2040.1,2288.9 2048.0,2288.6 2055.6,2288.4 2063.0,2288.1 2069.9,2287.8 2072.5,2287.7 M2172.4,2284.7L2174.1,2284.6 2176.8,2284.5 2179.4,2284.4 2182.0,2284.2 2184.6,2284.1 2187.2,2284.0 2189.7,2283.8 2192.3,2283.7 2194.8,2283.6 2197.4,2283.4 2200.0,2283.3" fill="none" stroke="#98B954" stroke-width="11.5" stroke-linecap="round" stroke-linejoin="round"/>
<circle cx="496.4" cy="2400.5" r="5.8" fill="#98B954"/><circle cx="608.8" cy="2323.7" r="5.8" fill="#98B954"/><circle cx="735.2" cy="2259.5" r="5.8" fill="#98B954"/><circle cx="890.0" cy="2222.2" r="5.8" fill="#98B954"/><circle cx="1068.7" cy="2223.2" r="5.8" fill="#98B954"/><circle cx="1234.8" cy="2246.6" r="5.8" fill="#98B954"/><circle cx="1399.3" cy="2272.3" r="5.8" fill="#98B954"/><circle cx="1572.3" cy="2288.9" r="5.8" fill="#98B954"/><circle cx="1755.0" cy="2296.4" r="5.8" fill="#98B954"/><circle cx="1939.6" cy="2291.2" r="5.8" fill="#98B954"/><circle cx="2123.1" cy="2285.5" r="5.8" fill="#98B954"/><path d="M402.7,2343.4L402.7,2343.5 402.9,2344.2 403.0,2345.0 403.3,2346.3 403.6,2347.7 403.9,2349.2 404.3,2350.8 404.7,2352.4 405.1,2354.1 405.5,2355.8 405.9,2357.5 406.3,2359.2 406.8,2360.8 407.1,2362.4 407.5,2364.0 407.8,2365.4 408.1,2366.7 408.4,2368.1 408.7,2369.4 409.0,2370.7 409.3,2372.0 409.6,2373.3 409.8,2374.6 410.1,2376.0 410.4,2377.3 410.7,2378.6 411.0,2380.0 411.3,2381.4 411.7,2382.9 412.0,2384.3 412.3,2385.8 412.7,2387.2 413.0,2388.7 413.3,2390.1 413.7,2391.6 414.0,2393.2 414.4,2394.7 414.7,2396.3 415.0,2398.0 415.4,2400.2 415.8,2402.6 416.2,2405.0 416.6,2407.6 417.0,2410.2 417.3,2412.8 417.7,2415.4 418.1,2417.9 418.5,2420.4 418.8,2422.8 419.2,2425.0 419.5,2427.0 419.7,2428.3 419.9,2429.5 420.2,2430.6 420.4,2431.7 420.6,2432.8 420.8,2433.8 421.0,2434.8 421.2,2435.9 421.4,2436.9 421.6,2437.9 421.8,2438.9 422.0,2440.0 425.6,2438.4 429.2,2436.8 432.8,2435.2 436.3,2433.6 439.9,2432.0 443.5,2430.4 447.1,2428.8 450.7,2427.2 454.3,2425.6 457.8,2424.0 459.1,2423.5" fill="none" stroke="#98B954" stroke-width="14" stroke-linecap="round" stroke-linejoin="round"/>
</g>
<line x1="322" y1="1815" x2="322" y2="2977.8" stroke="#000" stroke-width="12"/>
<polygon points="321.5,1764 294.5,1819 349.5,1819" fill="#000"/>
<line x1="316" y1="2972.5" x2="2145" y2="2972.5" stroke="#000" stroke-width="10.5"/>
<polygon points="2140.5,2945.5 2195.5,2973 2140.5,3000" fill="#000"/>
<text x="248.5" y="1790.8" text-anchor="end" font-size="92" font-family="Liberation Serif, Times New Roman, serif">63</text>
<text x="248.5" y="1963.8" text-anchor="end" font-size="92" font-family="Liberation Serif, Times New Roman, serif">62</text>
<text x="248.5" y="2136.8" text-anchor="end" font-size="92" font-family="Liberation Serif, Times New Roman, serif">61</text>
<text x="248.5" y="2309.9" text-anchor="end" font-size="92" font-family="Liberation Serif, Times New Roman, serif">60</text>
<text x="248.5" y="2482.9" text-anchor="end" font-size="92" font-family="Liberation Serif, Times New Roman, serif">59</text>
<text x="248.5" y="2655.9" text-anchor="end" font-size="92" font-family="Liberation Serif, Times New Roman, serif">58</text>
<text x="248.5" y="2829.0" text-anchor="end" font-size="92" font-family="Liberation Serif, Times New Roman, serif">57</text>
<text x="248.5" y="3002.0" text-anchor="end" font-size="92" font-family="Liberation Serif, Times New Roman, serif">56</text>
<text x="344.5" y="3104" text-anchor="middle" font-size="90" font-family="Liberation Serif, Times New Roman, serif">0</text>
<text x="717.5" y="3104" text-anchor="middle" font-size="90" font-family="Liberation Serif, Times New Roman, serif">5</text>
<text x="1115.5" y="3104" text-anchor="middle" font-size="90" font-family="Liberation Serif, Times New Roman, serif">10</text>
<text x="1489.5" y="3104" text-anchor="middle" font-size="90" font-family="Liberation Serif, Times New Roman, serif">15</text>
<text x="1864.8" y="3104" text-anchor="middle" font-size="90" font-family="Liberation Serif, Times New Roman, serif">20</text>
<text x="2238" y="3104" text-anchor="middle" font-size="90" font-family="Liberation Serif, Times New Roman, serif">25</text>
<text x="1080.3" y="3195" font-size="87.8" font-family="Liberation Serif, Times New Roman, serif">Time (s)</text>
<text transform="translate(114.5,2691.7) rotate(-90)" x="-2.6" y="0" font-size="88" font-family="Liberation Serif, Times New Roman, serif">Frequency (Hz)</text>
<text y="3347" font-size="81" font-family="Liberation Serif, Times New Roman, serif"><tspan x="1103.6">(</tspan><tspan x="1126.8" font-weight="bold" font-size="84">b</tspan><tspan x="1175.7">)</tspan></text>
<rect x="1445.2" y="1833.7" width="765.3" height="326.29999999999995" fill="#fff" stroke="none"/><line x1="1445.2" y1="1833.7" x2="1445.2" y2="2160" stroke="#d3d3d3" stroke-width="2.6"/><line x1="2210.5" y1="1833.7" x2="2210.5" y2="2160" stroke="#d3d3d3" stroke-width="2.6"/><line x1="1443.9" y1="1833.7" x2="2211.8" y2="1833.7" stroke="#c0c0c0" stroke-width="2.6"/><line x1="1443.9" y1="2160" x2="2211.8" y2="2160" stroke="#444" stroke-width="3"/>
<line x1="1483.8" y1="1887.3" x2="1556.9" y2="1887.3" stroke="#4A7EBB" stroke-width="8.6" stroke-linecap="round"/>
<circle cx="1483.8" cy="1996.5" r="6.4" fill="#BE4B48"/>
<circle cx="1509" cy="1996.5" r="6.4" fill="#BE4B48"/>
<circle cx="1534.2" cy="1996.5" r="6.4" fill="#BE4B48"/>
<line x1="1483.6" y1="2106" x2="1557.5" y2="2106" stroke="#98B954" stroke-width="12" stroke-linecap="round"/>
<text x="1565.2" y="1914" font-size="87.5" font-family="Liberation Serif, Times New Roman, serif">Proposed method</text>
<text x="1567.7" y="2023.2" font-size="87.5" font-family="Liberation Serif, Times New Roman, serif">Utility scheme</text>
<text x="1565.2" y="2132.5" font-size="87.5" font-family="Liberation Serif, Times New Roman, serif">Method in [22]</text>
</svg>
</body></html>
